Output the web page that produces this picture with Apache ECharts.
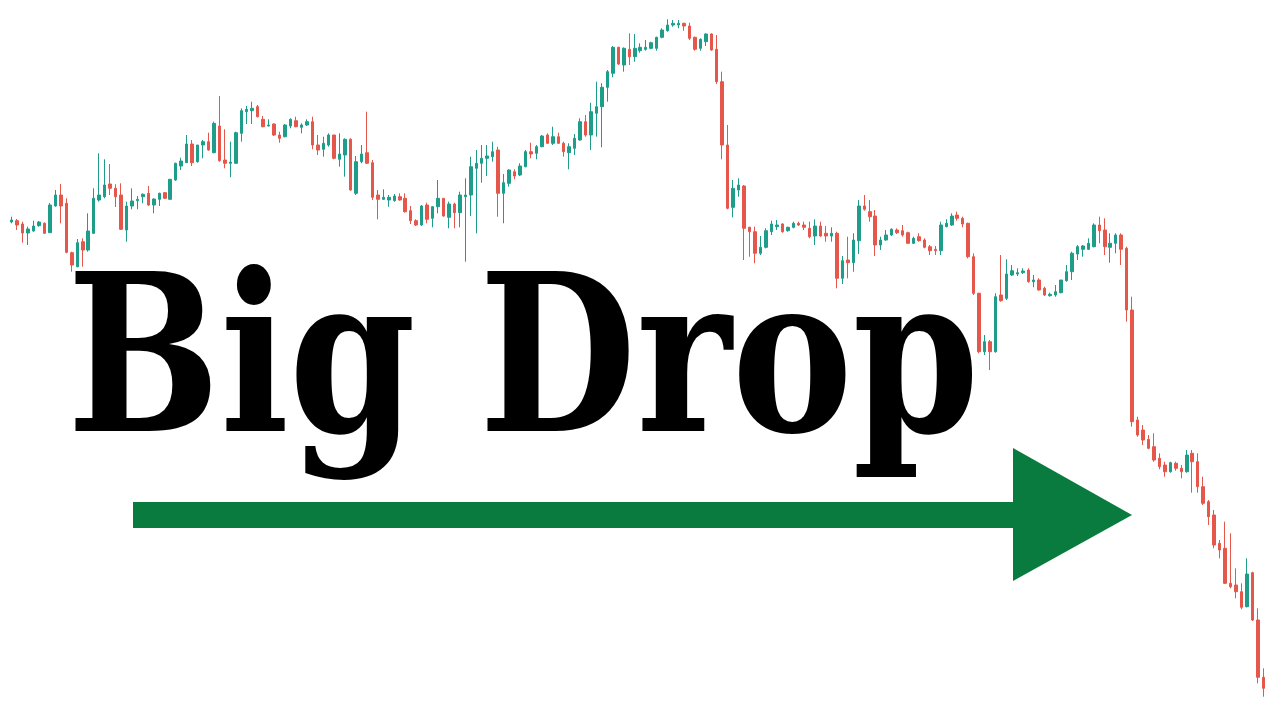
<!DOCTYPE html>
<html><head><meta charset="utf-8">
<script src="https://cdn.jsdelivr.net/npm/echarts@6/dist/echarts.min.js"></script>
<style>html,body{margin:0;padding:0;background:#fff}#c{width:1280px;height:720px}</style>
</head><body><div id="c"></div>
<script>
// Values are read as depth from the top of the picture (axis is inverted).
const open=[222,220.7,224,233,231,225.7,223.3,232.7,206,195,
203.3,252.7,266.7,241.7,250,233.3,200,196.7,184,188.3,
195,230,206,200.7,196.7,193.3,205,199.3,192.7,199.3,
180,166,162.7,144,161.7,145,141.7,152.7,126,160,
163.3,163.3,133.3,111.7,110.7,106.7,119.3,126,124,135,
136.7,126,120.7,127.3,125,121.7,145,149.3,145,135,
159.3,155,139.3,193.3,161.7,152.7,162.7,195,199.3,200,
200.7,196.7,198.3,210.7,220.7,225,205,218.3,206.7,198.3,
217.3,204,212.7,196.7,195,168.3,163.3,158.3,156.7,150,
193.3,183.3,171.7,175,166.7,151.7,153.3,146.7,135,143.3,
136.7,143.3,152.7,148.3,140,121.7,135,113.3,106.7,87.3,
73.3,47.3,65,49.3,56.7,50.7,49.3,48.3,48.3,37.3,
30.7,25,25,23.3,26,37.3,48.3,41.7,34,49.3,
81.7,145,207.3,190,186,227.3,231.7,253.3,247.3,231.7,
226.7,224,230.7,227.3,223.3,225,228.3,236,226,233.3,
236,233.3,278.3,260,262.7,240.7,206,211.7,216,245,
240,235,230,230.7,232.7,243.3,236.7,240,246.7,249.3,
250.7,226.7,225,215,218.3,223.3,256.7,293.3,351.7,341.7,
351.7,295,298.3,275,274,272.7,270,281.7,280,288.3,
295.7,295,292.7,280.7,271.7,254,249.3,249.3,246.7,225,
230,247.3,243.3,235,248.3,310,420,430,439.3,446.7,
458.3,465,471.7,463.3,468.3,471.7,453.3,461.7,486.7,501.7,
515,543.3,548.3,583.3,585,591.7,606.7,572.7,620,677.3];
const close=[220,225,233,229,226,222,233.3,205,195,206,
252.3,265,242.7,250,231,198.3,195,185,188.3,196.7,
229.3,206,201,199.3,194.3,205,199,193.3,198.3,179.3,
163.3,161,144,162.7,145,141.7,150,123.3,160.7,163.3,
162,132.7,110.7,109.3,108.3,116.7,126.7,125,135,138.3,
125,119.3,126.7,125,121.7,145,150,143.3,135,158.3,
154,139.3,190,161.7,154,163.3,197.3,199.3,197.3,197.3,
196,200,211.7,220.7,225,206,219.3,206.7,198.3,216,
204,212.7,195,195,166.7,163.3,158.3,156,151.7,193.3,
182.7,170,176,166,151.7,154,146.7,136,143.3,136.7,
143.3,151.7,146.7,138.3,121.7,135,111.7,106.7,87.3,71.7,
47.3,64,48.3,56.7,48.3,47.3,47.3,42.7,37.3,30,
25,23.3,23.3,26,38.3,49.3,39.3,34,50,81.7,
145,208.3,188.3,185,228.3,231.7,253.3,247.3,230.7,224,
225,231.7,227.3,223.3,225,227.3,236.7,226,236,236,
233.3,278.3,260.7,262.7,240,206,209.3,216.7,245,240,
235,229.3,232.7,235,243.3,238.3,240.7,247.3,250.7,250.7,
225,223.3,216,218.3,224,256.7,293.3,351.7,341.7,351.7,
296.7,300.7,274,270.7,272.7,271,281.7,280,290,295,
294.3,291.7,280,271.7,253.3,246.7,246,243.3,225,230.7,
246.7,243.3,235,249.3,310,421.7,435,440,448.3,460,
466.7,471.7,462.7,468.3,471.7,455,461.7,486.7,503.3,516.7,
545,550,583.3,586.7,591.7,607.3,574,620,677.3,688.3];
const wickTop=[216.7,219,221.7,226.7,220.7,221,222.3,203,190,184,
198.3,251.7,239,238.3,213.3,188.3,153.3,159.3,164,184.3,
183.3,201.7,188.3,196,193.3,186,198.3,192.7,192,179,
162.7,157.7,135,140,145,140,132.7,121.7,96,129.3,
141.7,131.7,108.3,106,101.7,105,116,119.3,123.3,131.7,
124,118.3,116.7,123.3,119.3,116.7,135,136.7,133.3,135,
133.3,138.3,138.3,156,145,111.7,160,190,189.3,195,
194,193.3,193.3,206,219.3,205,202.7,206,180,198.3,
201.7,202.7,191.7,178.3,156.7,150,145,145,141.7,146.7,
174,169.3,169.3,163.3,150,142.7,145,135,133.3,126.7,
132.7,141.7,143.3,134,118.3,115,102.7,81.7,83.3,70,
46,46.7,47.3,33.3,34,43.3,40,41.7,36.7,28.3,
19.3,20,20,22.7,22.7,36.7,38.3,33.3,33.3,35,
71.7,125,180,178.3,185,226.7,226.7,236,228.3,220.7,
220,223.3,226.7,221.7,221.7,221.7,221.7,219.3,221.7,226,
227.3,231.7,256,236.7,233.3,200,195,200,210,236.7,
230,228.3,228.3,225,231.7,236.7,233.3,238.3,245,246,
221.7,219.3,213.3,211.7,216.7,222.7,253.3,292.7,335,340,
293.3,255,259.3,265,268.3,268.3,268.3,275,278.3,286.7,
292.7,285,280,265,251.7,245,245,238.3,223.3,216.7,
218.3,233.3,233.3,233.3,246.7,296.7,416.7,425,435,433.3,
453.3,461.7,461.7,461.7,465,450,450,453.3,476.7,500,
510,540,521.7,533.3,568.3,583.3,558.3,571.7,608.3,668.3];
const wickBottom=[223.3,230,242.7,245,231.7,226.7,234,233,206.7,223.3,
253.3,271.7,267.3,266.7,251.7,234,201.7,198.3,195,207,
230,241.7,209.3,209.3,203.3,206,213.3,206,199,199.5,
180.7,170,162.7,166,162.7,158.3,150.7,153.3,161.7,168.3,
177.3,164,141.7,124,124,117.3,127.3,126.3,136,142.7,
137.3,128.3,127.3,133.3,126,149.3,155,156.7,146.7,159.3,
166.7,176.7,190.7,195,163.3,164,200,219.3,200,206.7,
201.7,200.7,212.7,224,226,226,223.3,227.3,213.3,216.7,
228.3,228.3,227.3,261.7,216,233.3,182.7,176,161.7,216.7,
223.3,186.7,179.3,176,167.3,158.3,159.3,147.3,144,145,
144,156.7,169.3,155,140.7,136.7,150,136.7,147.3,101.7,
77.3,65,71.7,65,61.7,52.7,50.7,49.3,50.7,38.3,
31.7,26.7,28.3,30.7,40,50.7,50.7,46,50.7,84,
159.3,209.3,217.3,196.7,260,256.7,263.3,255,248.3,235,
230,232.7,231.7,228.3,226,230,238.3,245,236.7,241.7,
241.7,288.3,284,278.3,271.7,254,210.7,221.7,256,250,
240.7,236,234,236.7,244,244,241.7,248.3,255,255,
255,227.3,226,220.7,227.3,258.3,295,353.3,355,370,
352.7,301.7,300,276,276,274,282.7,287.3,290.7,296,
296.7,296.7,293.3,281.7,280,260,256.7,250,247.3,243.3,
255,262.7,253.3,265,321.7,426.7,436.7,445,449.3,461.7,
469.3,476.7,472.7,470.7,478.3,472.7,492.7,492.7,505,525,
548.3,558.3,584,588.3,598.3,609.3,607.3,621,683.3,696.7];
const categories = open.map((_, i) => String(i + 1));
const title = 'Big Drop';

const data = open.map((o, i) => [o, close[i], wickTop[i], wickBottom[i]]);
const chart = echarts.init(document.getElementById('c'), null, {renderer: 'canvas'});
const green = '#0a7b3e';
chart.setOption({
  animation: false,
  backgroundColor: '#ffffff',
  grid: {left: 9, right: 14, top: 0, bottom: 0, containLabel: false},
  xAxis: {type: 'category', data: categories, boundaryGap: true, show: false},
  yAxis: {type: 'value', min: 0, max: 720, inverse: true, show: false, splitLine: {show: false}},
  series: [{
    type: 'candlestick',
    data: data,
    barWidth: 3,
    itemStyle: {color: '#e5574b', color0: '#1f9d8b', borderColor: '#e5574b', borderColor0: '#1f9d8b', borderWidth: 1}
  }],
  graphic: [
    {type: 'text', x: 67, y: 374, scaleX: 0.824, z: 100,
     style: {text: title, font: 'bold 220px "DejaVu Serif"', fill: '#000', align: 'left', verticalAlign: 'middle'}},
    {type: 'rect', z: 100, shape: {x: 133, y: 502, width: 885, height: 26}, style: {fill: green}},
    {type: 'polygon', z: 100, shape: {points: [[1013, 448], [1132, 515], [1013, 581]]}, style: {fill: green}}
  ]
});
</script></body></html>
